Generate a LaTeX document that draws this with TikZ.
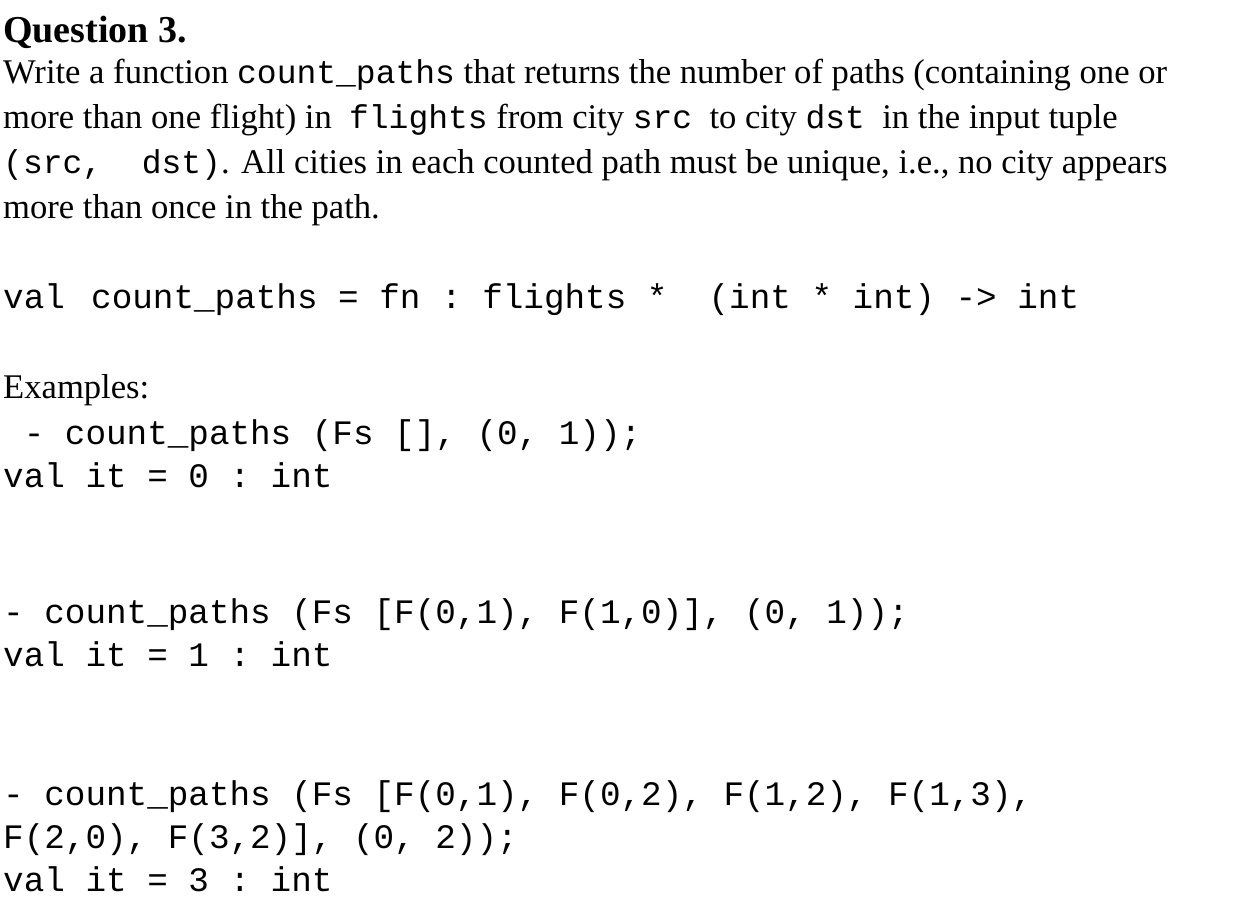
\documentclass[tikz,border=0pt]{standalone}
\usepackage{fontspec}
\setmainfont{Liberation Serif}
\setmonofont{Liberation Mono}
\begin{document}
\begin{tikzpicture}[x=1pt,y=-1pt,
  txt/.style={anchor=base west,inner sep=0pt,font=\fontsize{34.6}{38}\selectfont},
  code/.style={anchor=base west,inner sep=0pt,font=\fontsize{34.3}{38}\ttfamily}]
\useasboundingbox[fill=white] (0,0) rectangle (1238,918);
\node[txt,font=\fontsize{38}{40}\selectfont\bfseries] (q) at (3,42) {Question 3.};
\node[txt] (l1) at (3,83) {Write a function {\fontsize{33}{36}\ttfamily count\_paths} that returns the number of paths (containing one or};
\node[txt] (l2) at (3,128) {more than one flight) in \ {\fontsize{33}{36}\ttfamily flights} from city {\fontsize{33}{36}\ttfamily src} \ to city {\fontsize{33}{36}\ttfamily dst} \ in the input tuple};
\node[txt] (l3) at (3,173) {{\fontsize{33}{36}\ttfamily (src,\ \ dst)}. All cities in each counted path must be unique, i.e., no city appears};
\node[txt] (l4) at (3,218) {more than once in the path.};
\node[code] (sig) at (3,308) {val\ \,count\_paths = fn : flights * \ (int * int) -> int};
\node[txt] (ex) at (3,398) {Examples:};
\node[code] (e1) at (3,444) {\ - count\_paths (Fs [], (0, 1));};
\node[code] (r1) at (3,487) {val it = 0 : int};
\node[code] (e2) at (3,623) {- count\_paths (Fs [F(0,1), F(1,0)], (0, 1));};
\node[code] (r2) at (3,666) {val it = 1 : int};
\node[code] (e3) at (3,805) {- count\_paths (Fs [F(0,1), F(0,2), F(1,2), F(1,3),};
\node[code] (e3b) at (3,848) {F(2,0), F(3,2)], (0, 2));};
\node[code] (r3) at (3,891) {val it = 3 : int};
\end{tikzpicture}
\end{document}
